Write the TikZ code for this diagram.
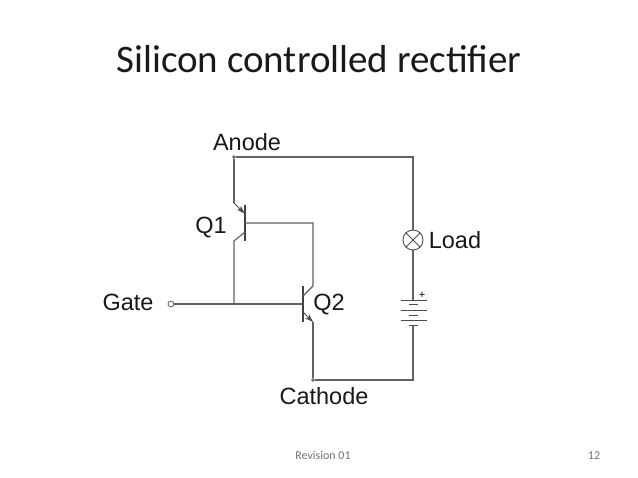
\documentclass[tikz,border=0pt]{standalone}
\usepackage{fontspec}
\setmainfont{Liberation Sans}
\newfontfamily\titlefont{Carlito}
\usetikzlibrary{arrows.meta}
\tikzset{
  wire/.style={draw=black!62,line width=1.1pt},
  thin wire/.style={draw=black!70,line width=0.9pt},
  bar/.style={draw=black!75,line width=1.2pt},
  lbl/.style={font=\fontsize{23.5}{26}\selectfont,text=black!90,inner sep=0pt,anchor=base},
  foot/.style={font=\titlefont\fontsize{12}{14}\selectfont,text=black!55,inner sep=0pt,anchor=base},
  term/.style={circle,draw=black!65,fill=white,line width=0.8pt,inner sep=0pt},
  tip/.style={-{Stealth[length=8pt,width=5.5pt,inset=2pt]}}
}
\begin{document}
\begin{tikzpicture}[x=1pt,y=-1pt]
\useasboundingbox (0,0) rectangle (638,478);
\fill[white] (0,0) rectangle (638,478);
\node[inner sep=0pt,anchor=base,font=\titlefont\fontsize{39}{42}\selectfont,text=black!90] (title) at (319,73) {Silicon controlled rectifier};
\node[lbl] (anodeL) at (247,151) {Anode};
\node[lbl] (q1L) at (211,234) {Q1};
\node[lbl] (loadL) at (455,249) {Load};
\node[lbl] (gateL) at (128,311) {Gate};
\node[lbl] (q2L) at (329,311) {Q2};
\node[lbl] (cathL) at (324,405) {Cathode};
\node[foot] (rev) at (323,460) {Revision 01};
\node[foot] (pg) at (594,460) {12};
\node[inner sep=0pt,font=\fontsize{11}{12}\selectfont] (plus) at (422,295.5) {+};
% terminals and junction points
\node[term,minimum size=2.6pt] (A) at (234,157) {};
\node[term,minimum size=2.6pt] (K) at (313,380) {};
\node[term,minimum size=6pt] (G) at (171,304) {};
\coordinate (NE) at (413,157);
\coordinate (SE) at (413,380);
\coordinate (J) at (234,304);
% lamp
\node[circle,draw=black!70,line width=0.9pt,minimum size=20pt,inner sep=0pt,fill=white] (lamp) at (413,240) {};
\draw[thin wire] (lamp.north west)--(lamp.south east) (lamp.north east)--(lamp.south west);
% battery
\coordinate (batT) at (413,300);
\coordinate (batB) at (413,325);
\draw[wire] (A)--(NE)--(lamp.north);
\draw[wire] (lamp.south)--(batT);
\draw[wire] (batB)--(SE)--(K);
\draw[thin wire] (400.7,300)--(427,300) (400.7,310)--(427,310) (400.7,320.5)--(427,320.5);
\draw[thin wire] (409,304.8)--(418,304.8) (409,315)--(418,315) (409,325)--(418,325);
% Q1
\coordinate (q1a) at (245,205);
\coordinate (q1b) at (245,241.5);
\coordinate (q1c) at (245,223);
\draw[bar] (q1a)--(q1b);
\draw[wire] (A)--(234,203);
\draw[thin wire,tip] (234,203)--(244.5,213.5);
\draw[wire] (245,232)--(234,241)--(J);
% Q2
\coordinate (q2b) at (303,304);
\draw[bar] (303,286.5)--(303,322.5);
\draw[wire] (G)--(q2b);
\draw[wire] (q1c)--(313,223)--(313,286)--(303,296);
\draw[thin wire,tip] (303,312)--(313,322);
\draw[wire] (313,322)--(K);
\end{tikzpicture}
\end{document}
